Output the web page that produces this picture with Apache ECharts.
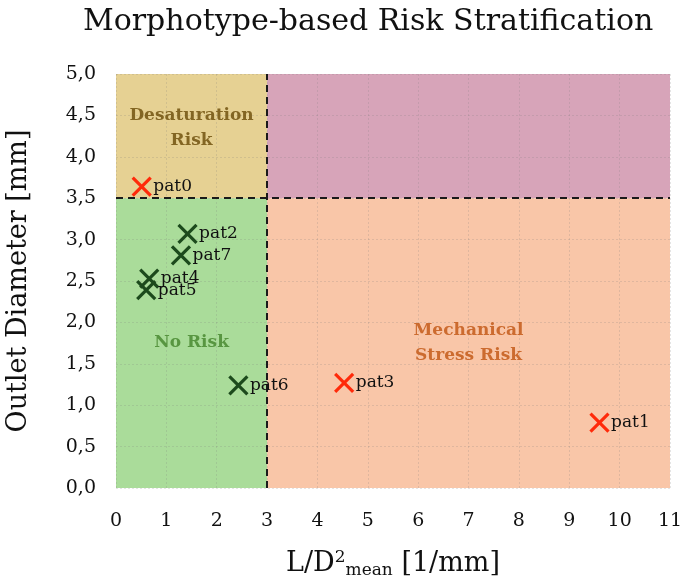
<!DOCTYPE html>
<html><head><meta charset="utf-8">
<script src="https://cdn.jsdelivr.net/npm/echarts@6/dist/echarts.min.js"></script>
<style>html,body{margin:0;padding:0;background:#fff}#c{width:685px;height:582px}</style>
</head><body><div id="c"></div>
<script>
const patNames = ['pat0','pat1','pat2','pat3','pat4','pat5','pat6','pat7'];
const patX = [0.51, 9.60, 1.42, 4.53, 0.66, 0.60, 2.43, 1.29];
const patY = [3.64, 0.79, 3.07, 1.27, 2.53, 2.39, 1.24, 2.81];
const patRisk = [true, true, false, true, false, false, false, false];
const xThreshold = 3;
const yThreshold = 3.5;
const xMax = 11, yMax = 5;
const regionNames = ['Desaturation\nRisk', 'No Risk', 'Mechanical\nStress Risk'];
const regionX = [1.5, 1.5, 7.0];
const regionY = [4.35, 1.76, 1.75];

const FONT = 'DejaVu Serif';
const regionColors = ['#6a4b08', '#44852a', '#c05410'];
const xPath = 'path://M0,0L10,10M10,0L0,10';

function mk(risk) {
  const data = [];
  patNames.forEach((n, i) => { if (patRisk[i] === risk) data.push({ name: n, value: [patX[i], patY[i]] }); });
  return {
    type: 'scatter', data, symbol: xPath, symbolSize: 18,
    itemStyle: { color: 'rgba(0,0,0,0)', borderColor: risk ? '#ff2a0a' : '#1c4a1c', borderWidth: 3.2, opacity: 1 },
    label: { show: true, position: 'right', distance: 1, formatter: p => p.name, color: '#111', fontFamily: FONT, fontSize: 17 },
    z: 5, silent: true
  };
}

const gridLine = { show: true, lineStyle: { color: 'rgba(120,120,120,0.2)', type: [2, 2], width: 1 } };

const chart = echarts.init(document.getElementById('c'));
chart.setOption({
  animation: false,
  title: { text: 'Morphotype-based Risk Stratification', left: 78, top: 2,
    textStyle: { fontFamily: FONT, fontWeight: 'normal', fontSize: 30, color: '#111' } },
  grid: { left: 116, right: 15, top: 74, bottom: 94, outerBoundsMode: 'none', containLabel: false },
  xAxis: {
    type: 'value', min: 0, max: xMax, interval: 1,
    axisLine: { show: false }, axisTick: { show: false },
    axisLabel: { fontFamily: FONT, fontSize: 19, color: '#111', margin: 24 },
    splitLine: gridLine,
    name: '{b|L/D}{sup|2}{sub|mean}{b| [1/mm]}', nameLocation: 'middle', nameGap: 61,
    nameTextStyle: { fontFamily: FONT, color: '#111', rich: {
      b: { fontFamily: FONT, fontSize: 27, color: '#111', lineHeight: 30 },
      sup: { fontFamily: FONT, fontSize: 17, color: '#111', verticalAlign: 'top', lineHeight: 17 },
      sub: { fontFamily: FONT, fontSize: 17, color: '#111', verticalAlign: 'bottom', lineHeight: 12 }
    } }
  },
  yAxis: {
    type: 'value', min: 0, max: yMax, interval: 0.5,
    axisLine: { show: false }, axisTick: { show: false },
    axisLabel: { fontFamily: FONT, fontSize: 19, color: '#111', margin: 20, formatter: v => v.toFixed(1).replace('.', ',') },
    splitLine: gridLine,
    name: 'Outlet Diameter [mm]', nameLocation: 'middle', nameGap: 84, nameRotate: 90,
    nameTextStyle: { fontFamily: FONT, fontSize: 27, color: '#111' }
  },
  series: [
    {
      type: 'scatter', data: [], silent: true, z: -1,
      markArea: { silent: true, z: -1, data: [
        [{ coord: [0, yThreshold], itemStyle: { color: '#e6d193' } }, { coord: [xThreshold, yMax] }],
        [{ coord: [xThreshold, yThreshold], itemStyle: { color: '#d7a4b9' } }, { coord: [xMax, yMax] }],
        [{ coord: [0, 0], itemStyle: { color: '#aadc9a' } }, { coord: [xThreshold, yThreshold] }],
        [{ coord: [xThreshold, 0], itemStyle: { color: '#f9c6a8' } }, { coord: [xMax, yThreshold] }]
      ] }
    },
    {
      type: 'scatter', data: [], silent: true, z: 3,
      markLine: { silent: true, symbol: 'none', label: { show: false },
        lineStyle: { color: '#1a1a1a', type: [7, 5], width: 2 },
        data: [
          [{ coord: [xThreshold, 0] }, { coord: [xThreshold, yMax] }],
          [{ coord: [0, yThreshold] }, { coord: [xMax, yThreshold] }]
        ] }
    },
    {
      type: 'scatter', symbolSize: 0, silent: true, z: 4,
      data: regionNames.map((n, i) => ({ name: n, value: [regionX[i], regionY[i]],
        label: { color: regionColors[i] } })),
      label: { show: true, position: 'inside', formatter: p => p.name, fontFamily: FONT, fontWeight: 'bold', fontSize: 17, lineHeight: 25, align: 'center' }
    },
    mk(true), mk(false)
  ]
});
</script></body></html>
